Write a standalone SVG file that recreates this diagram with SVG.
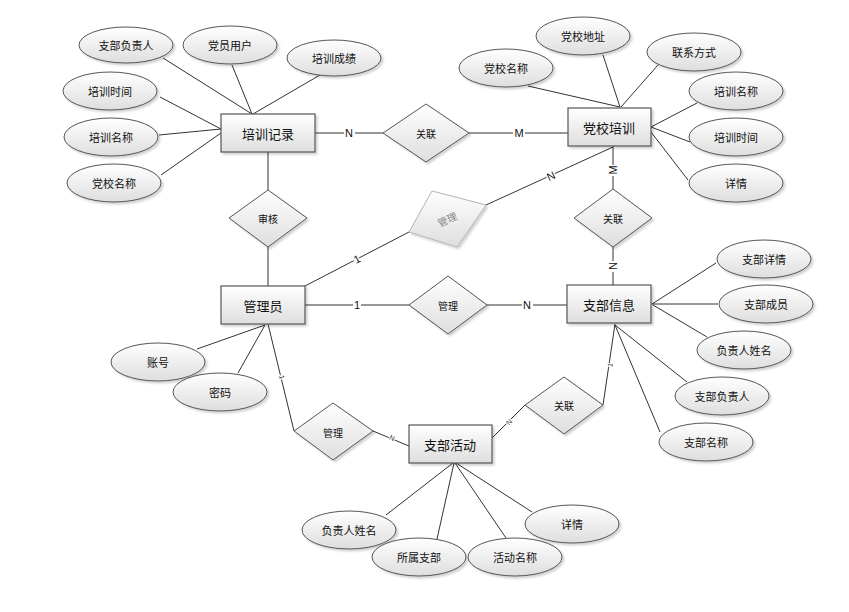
<svg xmlns="http://www.w3.org/2000/svg" width="849" height="612" viewBox="0 0 849 612">
<defs>
<linearGradient id="g" x1="0" y1="0" x2="0" y2="1">
<stop offset="0" stop-color="#ffffff"/>
<stop offset="1" stop-color="#dedede"/>
</linearGradient>
<filter id="sh" x="-20%" y="-20%" width="150%" height="150%">
<feDropShadow dx="2" dy="2" stdDeviation="1.2" flood-color="#000" flood-opacity="0.18"/>
</filter>
</defs>
<style>
.ent{fill:url(#g);stroke:#555;stroke-width:1.2;filter:url(#sh)}
.att{fill:url(#g);stroke:#555;stroke-width:1;filter:url(#sh)}
.rel{fill:url(#g);stroke:#555;stroke-width:1;filter:url(#sh)}
.relg{fill:url(#g);stroke:#b5b5b5;stroke-width:1;filter:url(#sh)}
.et{font-family:"Noto Sans CJK SC","Microsoft YaHei",sans-serif;font-size:13px;fill:#111;text-anchor:middle;dominant-baseline:central}
.at{font-family:"Noto Sans CJK SC","Microsoft YaHei",sans-serif;font-size:11px;fill:#111;text-anchor:middle;dominant-baseline:central}
.rt{font-family:"Noto Sans CJK SC","Microsoft YaHei",sans-serif;font-size:10px;fill:#111;text-anchor:middle;dominant-baseline:central}
.c line{stroke:#333;stroke-width:1}
.lb{font-family:"Liberation Sans",Arial,sans-serif;font-size:11px;fill:#111;text-anchor:middle;dominant-baseline:central}
.lbs{font-family:"Liberation Sans",Arial,sans-serif;font-size:7px;fill:#333;text-anchor:middle;dominant-baseline:central}
.bg{fill:#fff}
</style>
<rect width="849" height="612" fill="#fff"/>
<g id="connectors" class="c">
<!-- 培训记录 attributes -->
<line x1="163" y1="58" x2="252" y2="114"/>
<line x1="232" y1="65" x2="252" y2="114"/>
<line x1="320" y1="75" x2="253" y2="114"/>
<line x1="160" y1="97" x2="221" y2="129"/>
<line x1="159" y1="135" x2="221" y2="129"/>
<line x1="161" y1="175" x2="221" y2="133"/>
<!-- 党校培训 attributes -->
<line x1="528" y1="86" x2="620" y2="107"/>
<line x1="603" y1="55" x2="620" y2="107"/>
<line x1="658" y1="65" x2="621" y2="107"/>
<line x1="697" y1="103" x2="651" y2="127"/>
<line x1="651" y1="127" x2="690" y2="142"/>
<line x1="651" y1="132" x2="688" y2="180"/>
<!-- 支部信息 attributes -->
<line x1="716" y1="263" x2="652" y2="304"/>
<line x1="652" y1="304" x2="718" y2="304"/>
<line x1="653" y1="305" x2="707" y2="337"/>
<line x1="615" y1="325" x2="687" y2="382"/>
<line x1="615" y1="325" x2="660" y2="432"/>
<!-- 管理员 attributes -->
<line x1="197" y1="349" x2="265" y2="325"/>
<line x1="238" y1="373" x2="265" y2="325"/>
<!-- 支部活动 attributes -->
<line x1="453" y1="463" x2="386" y2="515"/>
<line x1="454" y1="463" x2="437" y2="539"/>
<line x1="455" y1="463" x2="506" y2="538"/>
<line x1="456" y1="463" x2="532" y2="512"/>
<!-- relationships -->
<line x1="315" y1="133" x2="383" y2="133"/>
<line x1="469" y1="133" x2="568" y2="133"/>
<line x1="268" y1="152" x2="268" y2="190"/>
<line x1="268" y1="247" x2="268" y2="286"/>
<line x1="613" y1="146" x2="613" y2="189"/>
<line x1="613" y1="247" x2="613" y2="285"/>
<line x1="613" y1="147" x2="486" y2="205"/>
<line x1="409" y1="232" x2="305" y2="286"/>
<line x1="305" y1="305" x2="409" y2="305"/>
<line x1="487" y1="305" x2="567" y2="305"/>
<line x1="615" y1="324" x2="603" y2="405"/>
<line x1="525" y1="405" x2="492" y2="438"/>
<line x1="268" y1="324" x2="294" y2="431"/>
<line x1="373" y1="431" x2="409" y2="446"/>
</g>
<g id="labels">
<rect class="bg" x="344" y="127" width="11" height="12"/>
<text class="lb" x="349" y="133">N</text>
<rect class="bg" x="513" y="127" width="12" height="12"/>
<text class="lb" x="519" y="133">M</text>
<rect class="bg" x="607" y="165" width="12" height="11"/>
<text class="lb" x="613" y="170" transform="rotate(-90 613 170)">M</text>
<rect class="bg" x="608" y="261" width="11" height="11"/>
<text class="lb" x="613" y="266" transform="rotate(90 613 266)">N</text>
<text class="lb" x="551" y="176" transform="rotate(-25 551 176)" style="paint-order:stroke;stroke:#fff;stroke-width:3">N</text>
<text class="lb" x="357" y="259" transform="rotate(-27 357 259)" style="paint-order:stroke;stroke:#fff;stroke-width:3">1</text>
<rect class="bg" x="353" y="299" width="8" height="12"/>
<text class="lb" x="357" y="305">1</text>
<rect class="bg" x="522" y="299" width="11" height="12"/>
<text class="lb" x="527" y="305">N</text>
<text class="lbs" x="610" y="365" transform="rotate(-81 610 365)" style="paint-order:stroke;stroke:#fff;stroke-width:2">1</text>
<text class="lbs" x="509" y="422" transform="rotate(-45 509 422)" style="paint-order:stroke;stroke:#fff;stroke-width:2">N</text>
<text class="lbs" x="282" y="377" transform="rotate(76 282 377)" style="paint-order:stroke;stroke:#fff;stroke-width:2">1</text>
<text class="lbs" x="392" y="438" transform="rotate(23 392 438)" style="paint-order:stroke;stroke:#fff;stroke-width:2">N</text>
</g>
<g id="e_pxjl"><rect class="ent" x="221" y="114" width="94" height="38"/><text class="et" x="268" y="133">培训记录</text></g>
<g id="e_dxpx"><rect class="ent" x="568" y="108" width="83" height="38"/><text class="et" x="609" y="127">党校培训</text></g>
<g id="e_gly"><rect class="ent" x="221" y="286" width="84" height="38"/><text class="et" x="263" y="305">管理员</text></g>
<g id="e_zbxx"><rect class="ent" x="567" y="285" width="84" height="38"/><text class="et" x="609" y="304">支部信息</text></g>
<g id="e_zbhd"><rect class="ent" x="409" y="425" width="83" height="38"/><text class="et" x="450" y="444">支部活动</text></g>
<g id="r_gl1"><polygon class="rel" points="383,133 426,104 469,133 426,162"/><text class="rt" x="426" y="133">关联</text></g>
<g id="r_sh"><polygon class="rel" points="229,218 268,190 307,218 268,247"/><text class="rt" x="268" y="218">审核</text></g>
<g id="r_glrot"><polygon class="relg" points="432,191 486,205 457,247 409,232"/><text class="rt" x="447" y="219" transform="rotate(-25 447 219)" style="fill:#888">管理</text></g>
<g id="r_gl2"><polygon class="rel" points="574,218 613,189 652,218 613,247"/><text class="rt" x="613" y="218">关联</text></g>
<g id="r_gm"><polygon class="rel" points="409,305 448,276 487,305 448,334"/><text class="rt" x="448" y="305">管理</text></g>
<g id="r_gl3"><polygon class="rel" points="525,405 564,377 603,405 564,434"/><text class="rt" x="564" y="405">关联</text></g>
<g id="r_gm2"><polygon class="rel" points="294,431 333,403 373,431 333,460"/><text class="rt" x="333" y="432">管理</text></g>
<g id="a1"><ellipse class="att" cx="126" cy="45" rx="47" ry="18"/><text class="at" x="126" y="45">支部负责人</text></g>
<g id="a2"><ellipse class="att" cx="230" cy="45" rx="47" ry="19"/><text class="at" x="230" y="45">党员用户</text></g>
<g id="a3"><ellipse class="att" cx="334" cy="58" rx="47" ry="18"/><text class="at" x="334" y="58">培训成绩</text></g>
<g id="a4"><ellipse class="att" cx="110" cy="91" rx="47" ry="19"/><text class="at" x="110" y="91">培训时间</text></g>
<g id="a5"><ellipse class="att" cx="111" cy="137" rx="47" ry="19"/><text class="at" x="111" y="137">培训名称</text></g>
<g id="a6"><ellipse class="att" cx="114" cy="183" rx="47" ry="19"/><text class="at" x="114" y="183">党校名称</text></g>
<g id="a7"><ellipse class="att" cx="583" cy="36" rx="47" ry="19"/><text class="at" x="583" y="36">党校地址</text></g>
<g id="a8"><ellipse class="att" cx="694" cy="52" rx="47" ry="19"/><text class="at" x="694" y="52">联系方式</text></g>
<g id="a9"><ellipse class="att" cx="506" cy="68" rx="47" ry="19"/><text class="at" x="506" y="68">党校名称</text></g>
<g id="a10"><ellipse class="att" cx="736" cy="91" rx="47" ry="19"/><text class="at" x="736" y="91">培训名称</text></g>
<g id="a11"><ellipse class="att" cx="736" cy="137" rx="47" ry="19"/><text class="at" x="736" y="137">培训时间</text></g>
<g id="a12"><ellipse class="att" cx="736" cy="183" rx="47" ry="19"/><text class="at" x="736" y="183">详情</text></g>
<g id="a13"><ellipse class="att" cx="764" cy="259" rx="47" ry="19"/><text class="at" x="764" y="259">支部详情</text></g>
<g id="a14"><ellipse class="att" cx="766" cy="304" rx="47" ry="19"/><text class="at" x="766" y="304">支部成员</text></g>
<g id="a15"><ellipse class="att" cx="744" cy="350" rx="47" ry="19"/><text class="at" x="744" y="350">负责人姓名</text></g>
<g id="a16"><ellipse class="att" cx="722" cy="396" rx="47" ry="19"/><text class="at" x="722" y="396">支部负责人</text></g>
<g id="a17"><ellipse class="att" cx="706" cy="442" rx="47" ry="19"/><text class="at" x="706" y="442">支部名称</text></g>
<g id="a18"><ellipse class="att" cx="158" cy="362" rx="47" ry="19"/><text class="at" x="158" y="362">账号</text></g>
<g id="a19"><ellipse class="att" cx="220" cy="392" rx="47" ry="19"/><text class="at" x="220" y="392">密码</text></g>
<g id="a20"><ellipse class="att" cx="349" cy="530" rx="47" ry="19"/><text class="at" x="349" y="530">负责人姓名</text></g>
<g id="a21"><ellipse class="att" cx="419" cy="557" rx="47" ry="19"/><text class="at" x="419" y="557">所属支部</text></g>
<g id="a22"><ellipse class="att" cx="515" cy="557" rx="47" ry="19"/><text class="at" x="515" y="557">活动名称</text></g>
<g id="a23"><ellipse class="att" cx="572" cy="524" rx="47" ry="19"/><text class="at" x="572" y="524">详情</text></g>
</svg>
